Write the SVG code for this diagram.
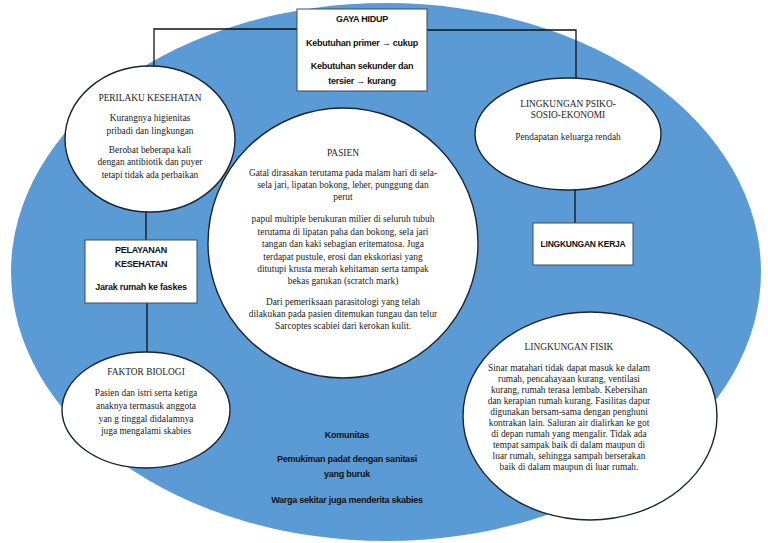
<svg xmlns="http://www.w3.org/2000/svg" width="768" height="543" viewBox="0 0 768 543">
<style>
.bg{fill:#5b9bd5}
.node{fill:#ffffff;stroke:#1c2430;stroke-width:1.4}
.box{fill:#ffffff;stroke:#3b4a5c;stroke-width:1}
.con{fill:none;stroke:#111;stroke-width:1.3}
.s{font-family:"Liberation Serif","Times New Roman",serif;font-size:9.4px;fill:#222;text-anchor:middle}
.b{font-family:"Liberation Sans",Arial,sans-serif;font-weight:bold;font-size:9px;fill:#111;text-anchor:middle;letter-spacing:-0.25px}
</style>
<rect width="768" height="543" fill="#ffffff"/>
<ellipse class="bg" cx="386" cy="272" rx="375" ry="269"/>
<g id="connectors">
<polyline class="con" points="297,29 154,29 154,66"/>
<polyline class="con" points="427,30 576,30 576,78"/>
<line class="con" x1="575" y1="190" x2="575" y2="223"/>
<line class="con" x1="146" y1="211" x2="146" y2="240"/>
<line class="con" x1="147" y1="303" x2="147" y2="352"/>
</g>
<g id="gaya-hidup">
<rect class="box" x="297" y="9" width="130" height="82"/>
<text class="b" x="362" y="22">GAYA HIDUP</text>
<text class="b" x="362" y="46">Kebutuhan primer → cukup</text>
<text class="b" x="362" y="69">Kebutuhan sekunder dan</text>
<text class="b" x="362" y="84">tersier → kurang</text>
</g>
<g id="perilaku-kesehatan">
<ellipse class="node" cx="150" cy="139" rx="85" ry="73"/>
<text class="s" x="150" y="101">PERILAKU KESEHATAN</text>
<text class="s" x="150" y="121">Kurangnya higienitas</text>
<text class="s" x="150" y="134">pribadi dan lingkungan</text>
<text class="s" x="150" y="153">Berobat beberapa kali</text>
<text class="s" x="150" y="165">dengan antibiotik dan puyer</text>
<text class="s" x="150" y="178">tetapi tidak ada perbaikan</text>
</g>
<g id="pelayanan-kesehatan">
<rect class="box" x="85" y="240" width="112" height="63"/>
<text class="b" x="141" y="253">PELAYANAN</text>
<text class="b" x="141" y="267">KESEHATAN</text>
<text class="b" x="141" y="290">Jarak rumah ke faskes</text>
</g>
<g id="faktor-biologi">
<ellipse class="node" cx="146" cy="410" rx="84" ry="58"/>
<text class="s" x="146" y="375">FAKTOR BIOLOGI</text>
<text class="s" x="146" y="396">Pasien dan istri serta ketiga</text>
<text class="s" x="146" y="409">anaknya termasuk anggota</text>
<text class="s" x="146" y="422">yan g tinggal didalamnya</text>
<text class="s" x="146" y="434">juga mengalami skabies</text>
</g>
<g id="pasien">
<ellipse class="node" cx="343" cy="243" rx="135" ry="135"/>
<text class="s" x="343" y="156">PASIEN</text>
<text class="s" x="343" y="176">Gatal dirasakan terutama pada malam hari di sela-</text>
<text class="s" x="343" y="188">sela jari, lipatan bokong, leher, punggung dan</text>
<text class="s" x="343" y="200">perut</text>
<text class="s" x="343" y="222">papul multiple berukuran milier di seluruh tubuh</text>
<text class="s" x="343" y="235">terutama di lipatan paha dan bokong, sela jari</text>
<text class="s" x="343" y="247">tangan dan kaki sebagian eritematosa. Juga</text>
<text class="s" x="343" y="260">terdapat pustule, erosi dan ekskoriasi yang</text>
<text class="s" x="343" y="272">ditutupi krusta merah kehitaman serta tampak</text>
<text class="s" x="343" y="284">bekas garukan (scratch mark)</text>
<text class="s" x="343" y="305">Dari pemeriksaan parasitologi yang telah</text>
<text class="s" x="343" y="317">dilakukan pada pasien ditemukan tungau dan telur</text>
<text class="s" x="343" y="329">Sarcoptes scabiei dari kerokan kulit.</text>
</g>
<g id="lingkungan-psiko-sosio-ekonomi">
<ellipse class="node" cx="568" cy="134" rx="93" ry="56"/>
<text class="s" x="568" y="107">LINGKUNGAN PSIKO-</text>
<text class="s" x="568" y="118">SOSIO-EKONOMI</text>
<text class="s" x="568" y="140">Pendapatan keluarga rendah</text>
</g>
<g id="lingkungan-kerja">
<rect class="box" x="533" y="223" width="100" height="42"/>
<text class="b" x="583" y="247" style="font-size:8.5px">LINGKUNGAN KERJA</text>
</g>
<g id="lingkungan-fisik">
<ellipse class="node" cx="590" cy="416" rx="127" ry="104"/>
<text class="s" x="569" y="350">LINGKUNGAN FISIK</text>
<text class="s" x="569" y="371">Sinar matahari tidak dapat masuk ke dalam</text>
<text class="s" x="569" y="382">rumah, pencahayaan kurang, ventilasi</text>
<text class="s" x="569" y="393">kurang, rumah terasa lembab. Kebersihan</text>
<text class="s" x="569" y="404">dan kerapian rumah kurang. Fasilitas dapur</text>
<text class="s" x="569" y="415">digunakan bersam-sama dengan penghuni</text>
<text class="s" x="569" y="426">kontrakan lain. Saluran air dialirkan ke got</text>
<text class="s" x="569" y="437">di depan rumah yang mengalir. Tidak ada</text>
<text class="s" x="569" y="448">tempat sampak baik di dalam maupun di</text>
<text class="s" x="569" y="459">luar rumah, sehingga sampah berserakan</text>
<text class="s" x="569" y="470">baik di dalam maupun di luar rumah.</text>
</g>
<g id="komunitas">
<text class="b" x="347" y="438">Komunitas</text>
<text class="b" x="347" y="462">Pemukiman padat dengan sanitasi</text>
<text class="b" x="347" y="477">yang buruk</text>
<text class="b" x="347" y="503">Warga sekitar juga menderita skabies</text>
</g>
</svg>
